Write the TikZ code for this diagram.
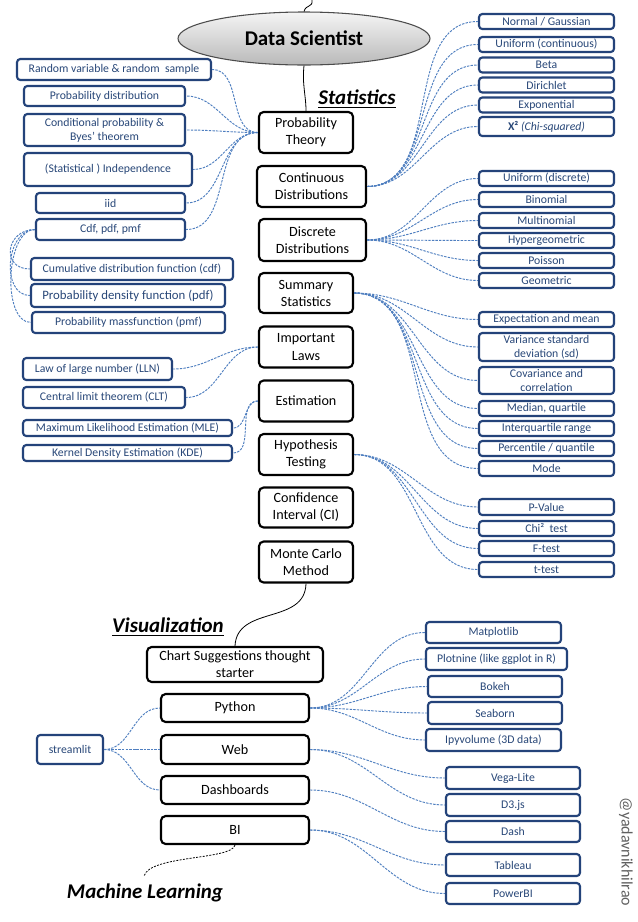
\documentclass[tikz,border=0pt]{standalone}
\usepackage{fontspec}
\setmainfont{Carlito}
\usetikzlibrary{shapes.geometric}
\definecolor{bxborder}{HTML}{24437A}
\definecolor{bxtext}{HTML}{284778}
\definecolor{linkblue}{HTML}{4F7FC0}
\tikzset{
 bluebox/.style={draw=bxborder, line width=1.6pt, rounded corners=2.5pt, fill=white, text=bxtext, font=\fontsize{8.8}{10.5}\selectfont, align=center, inner sep=0pt},
 blackbox/.style={draw=black, line width=1.6pt, rounded corners=3.5pt, fill=white, font=\fontsize{10.6}{12.8}\selectfont, align=center, inner sep=0pt},
 linkline/.style={draw=linkblue, line width=0.7pt, dash pattern=on 1.8pt off 0.9pt},
 titletext/.style={font=\bfseries\itshape\fontsize{15.7}{18}\selectfont, inner sep=0pt},
}
\newcommand{\mkblue}[6]{\node[bluebox, minimum width=#4*0.75pt, minimum height=#5*0.75pt] (#1) at (#2,#3) {#6};}
\newcommand{\mkblack}[6]{\node[blackbox, minimum width=#4*0.75pt, minimum height=#5*0.75pt] (#1) at (#2,#3) {#6};}
\begin{document}
\begin{tikzpicture}[x=0.75pt,y=-0.75pt]
\useasboundingbox (0,0) rectangle (638,922);
\fill[white] (0,0) rectangle (638,922);

% ellipse
\node[ellipse, draw=gray!60!black, line width=0.8pt, top color=gray!8, bottom color=gray!55, minimum width=252*0.75pt, minimum height=53*0.75pt, inner sep=0pt, font=\bfseries\fontsize{15.7}{18}\selectfont] (ds) at (304,38.5) {Data Scientist};
\coordinate (dstop) at (312,0);

\node[titletext] (stat) at (357,99) {\underline{Statistics}};
\node[titletext] (viz) at (168,627) {\underline{Visualization}};
\node[titletext] (ml) at (145,893) {Machine Learning};

% center boxes
\mkblack{pt}{306}{132.5}{94}{41}{Probability\\Theory}
\mkblack{cont}{311.5}{186.5}{109}{41}{Continuous\\Distributions}
\mkblack{disc}{312.5}{240}{107}{42}{Discrete\\Distributions}
\mkblack{summ}{306}{293}{94}{40}{Summary\\Statistics}
\mkblack{laws}{306}{347}{94}{41}{Important\\Laws}
\mkblack{est}{306}{401}{94}{41}{Estimation}
\mkblack{hyp}{306}{454.5}{94}{41}{Hypothesis\\Testing}
\mkblack{ci}{306}{507.5}{94}{40}{Confidence\\Interval (CI)}
\mkblack{mc}{306}{562}{94}{41}{Monte Carlo\\Method}

% left boxes
\mkblue{rv}{114}{69.5}{194}{21}{Random variable \& random\ \ sample}
\mkblue{pd}{104.5}{96}{161}{20}{Probability distribution}
\mkblue{cp}{104.5}{130}{161}{32}{Conditional probability \&\\Byes’ theorem}
\mkblue{si}{108}{169.5}{168}{33}{(Statistical ) Independence}
\mkblue{iid}{110.5}{203}{149}{20}{iid}
\mkblue{cdf}{110.5}{229.5}{149}{21}{Cdf, pdf, pmf}
\mkblue{cum}{132}{269}{202}{22}{Cumulative distribution function (cdf)}
\mkblue{pdf}{128}{295.5}{194}{23}{\fontsize{9.6}{11}\selectfont Probability density function (pdf)}
\mkblue{pmf}{128.5}{322.5}{193}{21}{Probability massfunction (pmf)}
\mkblue{lln}{97.5}{369}{149}{22}{Law of large number (LLN)}
\mkblue{clt}{104}{397.5}{162}{21}{Central limit theorem (CLT)}
\mkblue{mle}{127.5}{428}{209}{16}{Maximum Likelihood Estimation (MLE)}
\mkblue{kde}{127.5}{453}{209}{16}{Kernel Density Estimation (KDE)}

% right boxes
\mkblue{nor}{546.5}{21.5}{135}{15}{Normal / Gaussian}
\mkblue{ucont}{546.5}{44.5}{135}{15}{Uniform (continuous)}
\mkblue{beta}{546.5}{65}{135}{15}{Beta}
\mkblue{diri}{546.5}{85}{135}{15}{Dirichlet}
\mkblue{expo}{546.5}{105}{135}{15}{Exponential}
\mkblue{chi}{546.5}{126.5}{135}{19}{\textbf{X²} \textit{(Chi-squared)}}
\mkblue{udis}{546.5}{178.5}{135}{15}{Uniform (discrete)}
\mkblue{bin}{546.5}{199.5}{135}{15}{Binomial}
\mkblue{mult}{546.5}{220.5}{135}{15}{Multinomial}
\mkblue{hypg}{546.5}{240.5}{135}{15}{Hypergeometric}
\mkblue{poi}{546.5}{260.5}{135}{15}{Poisson}
\mkblue{geo}{546.5}{280.5}{135}{15}{Geometric}
\mkblue{exm}{546.5}{319.5}{135}{15}{Expectation and mean}
\mkblue{var}{546.5}{347}{135}{28}{Variance standard\\deviation (sd)}
\mkblue{cov}{546.5}{380.5}{135}{27}{Covariance and\\correlation}
\mkblue{med}{546.5}{408.5}{135}{15}{Median, quartile}
\mkblue{iqr}{546.5}{428.5}{135}{15}{Interquartile range}
\mkblue{pct}{546.5}{448.5}{135}{15}{Percentile / quantile}
\mkblue{mode}{546.5}{468.5}{135}{15}{Mode}
\mkblue{pval}{546.5}{507}{135}{16}{P-Value}
\mkblue{chit}{546.5}{528.5}{135}{15}{Chi²\ \ test}
\mkblue{ft}{546.5}{548.5}{135}{15}{F-test}
\mkblue{tt}{546.5}{569.5}{135}{15}{t-test}

% visualization
\mkblack{chart}{235}{664.5}{176}{35}{Chart Suggestions thought\\starter}
\mkblack{py}{235}{708}{148}{28}{Python}
\mkblack{web}{235}{749.5}{148}{29}{Web}
\mkblack{dashb}{235}{790}{148}{28}{Dashboards}
\mkblack{bi}{235}{830}{148}{28}{BI}
\mkblue{strm}{70}{749.5}{66}{29}{streamlit}
\mkblue{mpl}{493.5}{632.5}{135}{21}{Matplotlib}
\mkblue{plotn}{496.5}{659}{141}{22}{Plotnine (like ggplot in R)}
\mkblue{bok}{495}{686.5}{134}{21}{Bokeh}
\mkblue{sea}{495}{713}{134}{22}{Seaborn}
\mkblue{ipy}{493.5}{740}{135}{22}{Ipyvolume (3D data)}
\mkblue{vega}{513}{778}{134}{22}{Vega-Lite}
\mkblue{dthree}{513}{805}{134}{22}{D3.js}
\mkblue{dsh}{513}{831.5}{134}{21}{Dash}
\mkblue{tab}{513}{865}{134}{22}{Tableau}
\mkblue{pbi}{513}{893.5}{134}{21}{PowerBI}

\node[rotate=-90, text=gray!75!black, font=\fontsize{12}{14}\selectfont, inner sep=0pt] (wm) at (626,852) {@yadavnikhilrao};

% black lines
\draw[line width=0.6pt] (ds.north) .. controls (306,4) and (313,8) .. (dstop);
\draw[line width=0.6pt] (ds.south) .. controls (302,85) and (306,95) .. (pt.north);
\draw[line width=0.6pt] (mc.south) .. controls (305,625) and (237,605) .. (chart.north);
\coordinate (mlend) at (144,876);
\draw[line width=0.6pt, dash pattern=on 1.5pt off 1pt] (bi.south) .. controls (232,860) and (150,855) .. (mlend);

% blue connectors
\foreach \t in {rv,pd,cp,si,iid,cdf} \draw[linkline] (pt.west) to[out=180,in=0] (\t.east);
\foreach \t in {cum,pdf,pmf} \draw[linkline] (cdf.west) .. controls ([xshift=-22pt]cdf.west) and ([xshift=-22pt]\t.west) .. (\t.west);
\foreach \t in {nor,ucont,beta,diri,expo,chi} \draw[linkline] (cont.east) to[out=0,in=180] (\t.west);
\foreach \t in {udis,bin,mult,hypg,poi,geo} \draw[linkline] (disc.east) to[out=0,in=180] (\t.west);
\foreach \t in {exm,var,cov,med,iqr,pct,mode} \draw[linkline] (summ.east) to[out=0,in=180] (\t.west);
\foreach \t in {lln,clt} \draw[linkline] (laws.west) to[out=180,in=0] (\t.east);
\foreach \t in {mle,kde} \draw[linkline] (est.west) to[out=180,in=0] (\t.east);
\foreach \t in {pval,chit,ft,tt} \draw[linkline] (hyp.east) to[out=0,in=180] (\t.west);
\foreach \t in {py,web,dashb} \draw[linkline] (strm.east) to[out=0,in=180] (\t.west);
\foreach \t in {mpl,plotn,bok,sea,ipy} \draw[linkline] (py.east) to[out=0,in=180] (\t.west);
\foreach \t in {vega,dthree} \draw[linkline] (web.east) to[out=0,in=180] (\t.west);
\foreach \t in {dsh} \draw[linkline] (dashb.east) to[out=0,in=180] (\t.west);
\foreach \t in {tab,pbi} \draw[linkline] (bi.east) to[out=0,in=180] (\t.west);
\end{tikzpicture}
\end{document}
